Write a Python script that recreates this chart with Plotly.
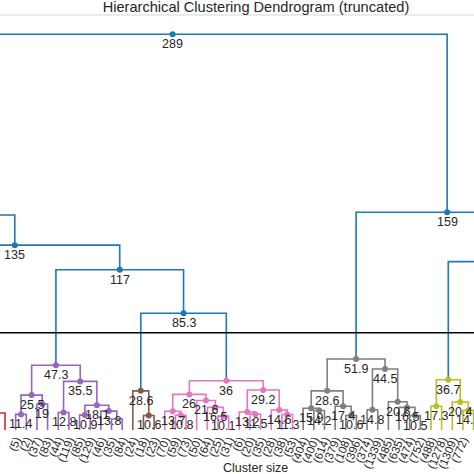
import plotly.graph_objects as go

# ---------------- data ----------------
title_text = "Hierarchical Clustering Dendrogram (truncated)"
x_title = "Cluster size"
max_d = 71            # horizontal cut line
annotate_above = 10   # merges above this distance get a dot + label
palette = ["#ff7f0e", "#2ca02c", "#d62728", "#9467bd", "#8c564b",
           "#e377c2", "#7f7f7f", "#bcbd22", "#17becf"]
above_color = "#1f77b4"

# node = (merge distance, left, right); leaf = cluster size;
# ("hidden", n_leaves, distance) = part of the tree outside the cropped view
red = (40.0, ("hidden", 7, 30.0), (12.4, ("hidden", 2, 6.0), 34))
purple = (47.3,
          (25.5, (11.4, 5, 2), (19.0, 37, 83)),
          (35.5, (12.8, 44, 119),
                 (18.1, (10.9, 85, 129), (13.8, 46, (8.0, 35, 84)))))
brown = (28.6, 24, (10.6, 18, 23))
pink = (36.0,
        (26.0, (13.7, 70, (10.8, 59, 73)),
               (21.6, 50, (16.5, 64, (10.1, 25, 31)))),
        (29.2, (13.2, 6, (11.5, 20, 35)),
               (14.6, 28, (11.3, 38, 53))))
gray = (51.9,
        (28.6, (15.9, 404, (14.2, 400, 614)), (17.4, 379, (10.6, 108, 396))),
        (44.5, (14.8, 374, 1339), (20.6, 485, (16.5, 635, (10.5, 474, 752)))))
olive = (36.7, (17.3, 488, 1278), (20.4, 1309, (14.3, 772, 758)))

n85 = (85.3, brown, pink)
n117 = (117.0, purple, n85)
n_left = (98.0, ("hidden", 10, 60.0), red)
n135 = (135.0, n_left, n117)
n157 = (157.0, ("hidden", 3, 55.0), n135)
n123 = (123.0, olive, ("hidden", 28, 65.0))
n159 = (159.0, gray, n123)
root = (289.0, n157, n159)

# ---------------- layout of the tree ----------------
links = {}
dots = []
leaf_x, leaf_text = [], []
counter = [0]


def place(node, slot, parent_color):
    if isinstance(node, int):
        leaf_x.append(slot)
        leaf_text.append(f"({node})")
        return slot, 0.0, slot + 1
    if node[0] == "hidden":
        if node[2] < max_d and parent_color == above_color:
            counter[0] += 1
        n = node[1]
        return slot + (n - 1) / 2, node[2], slot + n
    h, left, right = node
    if h >= max_d:
        color = above_color
    elif parent_color == above_color:
        color = palette[counter[0] % len(palette)]
        counter[0] += 1
    else:
        color = parent_color
    xl, hl, slot = place(left, slot, color)
    xr, hr, slot = place(right, slot, color)
    x = (xl + xr) / 2
    xs, ys = links.setdefault(color, ([], []))
    xs += [xl, xl, xr, xr, None]
    ys += [hl, h, h, hr, None]
    if h > annotate_above:
        dots.append((x, h, color))
    return x, h, slot


place(root, 0, above_color)

FONT = "Liberation Sans, Arial"
fig = go.Figure()
for color, (xs, ys) in links.items():
    fig.add_trace(go.Scatter(x=xs, y=ys, mode="lines",
                             line=dict(color=color, width=1.6),
                             hoverinfo="skip", showlegend=False))
fig.add_trace(go.Scatter(x=[d[0] for d in dots], y=[d[1] for d in dots],
                         mode="markers",
                         marker=dict(color=[d[2] for d in dots], size=6),
                         hoverinfo="skip", showlegend=False))

for x, h, c in dots:
    fig.add_annotation(x=x, y=h, text="%.3g" % h, showarrow=False,
                       yanchor="top", yshift=-1,
                       font=dict(size=12.5, color="#262626", family=FONT))

fig.add_shape(type="line", xref="paper", x0=0, x1=1, yref="y",
              y0=max_d, y1=max_d, line=dict(color="black", width=1.5))
fig.add_shape(type="line", xref="paper", x0=0, x1=1, yref="paper",
              y0=1, y1=1, line=dict(color="#e3e3e3", width=1.5))

fig.add_annotation(text=x_title, xref="paper", yref="paper",
                   x=256 / 474, y=-38 / 415, yanchor="middle",
                   showarrow=False,
                   font=dict(size=12.5, color="#262626", family=FONT))

x0, x1 = leaf_x[0], leaf_x[-1]
fig.update_layout(
    width=474, height=474,
    margin=dict(l=0, r=0, t=15, b=44),
    paper_bgcolor="white", plot_bgcolor="white",
    title=dict(text=title_text, x=256 / 474, xanchor="center",
               xref="container",
               y=1 - 7 / 474, yanchor="middle", yref="container",
               font=dict(size=14.6, color="#262626", family=FONT)),
    xaxis=dict(range=[x0 - 0.47, x1 + 0.04], tickvals=leaf_x,
               ticktext=leaf_text, tickangle=-68,
               tickfont=dict(size=11.5, color="#262626", family=FONT),
               showgrid=False, zeroline=False, showline=False, ticks=""),
    yaxis=dict(range=[0, 303.1], visible=False),
    showlegend=False,
)

fig.write_html("out.html")
